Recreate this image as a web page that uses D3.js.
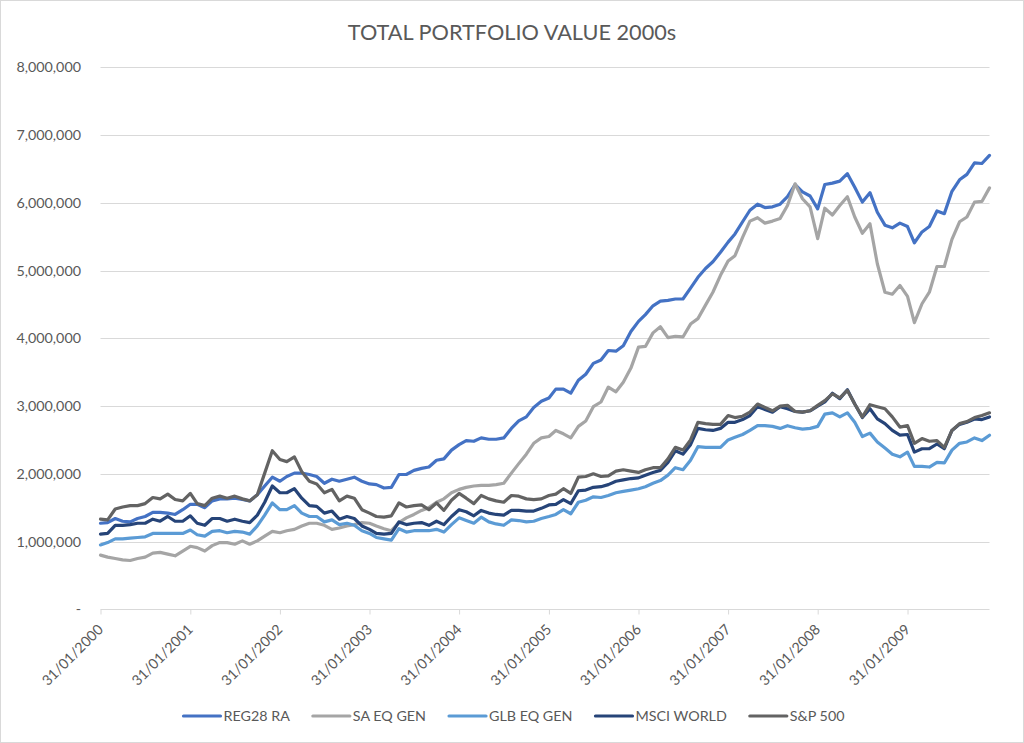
<!DOCTYPE html>
<html><head><meta charset="utf-8">
<script src="https://cdn.jsdelivr.net/npm/d3@7"></script>
<style>
body{margin:0;background:#fff}
svg{display:block}
text{font-family:Lato,"Open Sans",sans-serif;fill:#595959}
</style>
</head><body>
<svg id="chart" width="1024" height="743"></svg>
<script>
const chartTitle = "TOTAL PORTFOLIO VALUE 2000s";
const seriesNames = ["REG28 RA", "SA EQ GEN", "GLB EQ GEN", "MSCI WORLD", "S&P 500"];
const seriesColors = ["#4472C4", "#A5A5A5", "#5B9BD5", "#264478", "#636363"];
const firstMonthEnd = [2000, 0]; // 31/01/2000, monthly month-end observations
const UNIT = 1e6; // values below are in millions

const reg28 = [1.27,1.28,1.34,1.30,1.29,1.34,1.37,1.43,1.43,1.42,1.40,1.47,
1.55,1.55,1.50,1.60,1.63,1.63,1.64,1.62,1.60,1.69,1.82,1.95,
1.89,1.96,2.01,2.01,1.99,1.96,1.86,1.92,1.89,1.92,1.95,1.89,
1.85,1.84,1.79,1.80,1.99,1.99,2.05,2.08,2.10,2.20,2.22,2.35,
2.43,2.49,2.48,2.53,2.51,2.51,2.53,2.67,2.78,2.84,2.98,3.07,
3.12,3.25,3.25,3.19,3.38,3.47,3.63,3.68,3.82,3.81,3.89,4.10,
4.25,4.35,4.48,4.55,4.56,4.58,4.58,4.74,4.90,5.03,5.13,5.27,
5.42,5.54,5.72,5.89,5.98,5.93,5.94,5.98,6.09,6.27,6.16,6.10,
5.91,6.27,6.29,6.32,6.43,6.23,6.01,6.15,5.86,5.67,5.63,5.70,
5.65,5.41,5.57,5.65,5.88,5.84,6.17,6.34,6.42,6.59,6.58,6.70];

const saEqGen = [0.80,0.77,0.75,0.73,0.72,0.75,0.77,0.83,0.84,0.815,0.79,0.86,
0.93,0.91,0.86,0.94,0.985,0.985,0.96,1.01,0.96,1.01,1.08,1.15,
1.13,1.16,1.18,1.23,1.27,1.27,1.24,1.18,1.20,1.23,1.25,1.28,
1.27,1.23,1.19,1.16,1.28,1.35,1.40,1.46,1.50,1.58,1.63,1.72,
1.77,1.80,1.82,1.83,1.83,1.84,1.86,2.01,2.15,2.29,2.45,2.53,
2.55,2.64,2.59,2.53,2.70,2.78,2.99,3.06,3.28,3.21,3.35,3.56,
3.87,3.88,4.08,4.17,4.01,4.03,4.02,4.21,4.29,4.49,4.68,4.93,
5.14,5.22,5.49,5.73,5.78,5.70,5.73,5.77,5.96,6.28,6.06,5.94,
5.47,5.92,5.82,5.96,6.09,5.79,5.55,5.69,5.10,4.68,4.65,4.78,
4.62,4.23,4.51,4.68,5.06,5.06,5.46,5.72,5.79,6.01,6.02,6.22];

const glbEqGen = [0.95,0.985,1.04,1.04,1.05,1.06,1.07,1.12,1.12,1.12,1.12,1.12,
1.17,1.10,1.08,1.15,1.16,1.13,1.15,1.14,1.11,1.23,1.39,1.57,
1.47,1.47,1.53,1.42,1.37,1.37,1.29,1.32,1.25,1.27,1.24,1.16,
1.12,1.06,1.04,1.02,1.19,1.14,1.16,1.16,1.16,1.18,1.14,1.25,
1.35,1.31,1.27,1.36,1.29,1.26,1.24,1.32,1.31,1.29,1.30,1.34,
1.37,1.40,1.47,1.41,1.58,1.61,1.66,1.65,1.68,1.72,1.74,1.76,
1.78,1.81,1.86,1.90,1.98,2.09,2.06,2.20,2.40,2.39,2.39,2.39,
2.50,2.54,2.58,2.64,2.71,2.71,2.70,2.67,2.71,2.68,2.66,2.67,
2.70,2.88,2.90,2.84,2.90,2.76,2.55,2.60,2.47,2.38,2.29,2.25,
2.32,2.11,2.11,2.10,2.17,2.16,2.35,2.45,2.47,2.53,2.49,2.57];

const msciWorld = [1.11,1.12,1.24,1.24,1.25,1.27,1.27,1.33,1.30,1.37,1.30,1.30,
1.38,1.27,1.24,1.34,1.34,1.30,1.33,1.30,1.28,1.39,1.58,1.82,
1.72,1.72,1.78,1.64,1.53,1.52,1.42,1.45,1.33,1.37,1.34,1.23,
1.18,1.12,1.11,1.12,1.29,1.25,1.27,1.28,1.24,1.30,1.25,1.37,
1.47,1.44,1.38,1.46,1.42,1.40,1.39,1.46,1.46,1.45,1.45,1.49,
1.54,1.55,1.62,1.56,1.75,1.76,1.80,1.81,1.84,1.89,1.91,1.93,
1.94,1.98,2.02,2.05,2.17,2.34,2.29,2.43,2.67,2.65,2.64,2.67,
2.76,2.76,2.80,2.86,2.99,2.95,2.91,2.99,2.96,2.92,2.91,2.93,
3.00,3.06,3.19,3.11,3.24,3.03,2.83,2.96,2.81,2.74,2.64,2.57,
2.58,2.32,2.37,2.37,2.44,2.37,2.64,2.73,2.76,2.81,2.80,2.84];

const sp500 = [1.33,1.32,1.48,1.51,1.53,1.53,1.56,1.65,1.63,1.70,1.62,1.60,
1.71,1.56,1.53,1.64,1.67,1.64,1.67,1.63,1.60,1.69,2.01,2.34,
2.21,2.18,2.25,2.03,1.89,1.85,1.72,1.77,1.60,1.67,1.64,1.47,
1.42,1.37,1.36,1.38,1.57,1.51,1.53,1.54,1.47,1.57,1.46,1.61,
1.71,1.64,1.56,1.68,1.63,1.60,1.58,1.68,1.67,1.63,1.62,1.63,
1.68,1.70,1.78,1.71,1.95,1.96,2.00,1.96,1.97,2.04,2.06,2.04,
2.02,2.06,2.09,2.09,2.22,2.39,2.35,2.50,2.76,2.74,2.73,2.73,
2.86,2.83,2.85,2.91,3.03,2.98,2.93,3.00,3.01,2.92,2.91,2.93,
3.01,3.08,3.18,3.12,3.23,3.03,2.84,3.02,2.99,2.96,2.84,2.69,
2.71,2.45,2.52,2.48,2.49,2.39,2.64,2.74,2.77,2.83,2.86,2.90];

const xTickLabels = ["31/01/2000","31/01/2001","31/01/2002","31/01/2003","31/01/2004",
"31/01/2005","31/01/2006","31/01/2007","31/01/2008","31/01/2009"];
const yTickValues = [0,1,2,3,4,5,6,7,8];

(function () {
const allSeries = [reg28, saEqGen, glbEqGen, msciWorld, sp500];
const dates = reg28.map((_, i) => new Date(firstMonthEnd[0], firstMonthEnd[1] + i + 1, 0));
const parseTick = d3.timeParse("%d/%m/%Y");

const svg = d3.select("#chart");
const W = 1024, H = 743;
const pLeft = 100.5, pRight = 989.5, pTop = 67.3, pBottom = 609.3;

svg.append("rect").attr("x",0.5).attr("y",0.5).attr("width",W-1).attr("height",H-1)
  .attr("fill","#fff").attr("stroke","#d9d9d9").attr("stroke-width",1);

const x = d3.scaleTime().domain([dates[0], dates[dates.length-1]]).range([pLeft, pRight]);
const y = d3.scaleLinear().domain([0, 8]).range([pBottom, pTop]);

// gridlines
svg.append("g").selectAll("line").data(yTickValues.filter(v => v > 0)).join("line")
  .attr("x1", pLeft).attr("x2", pRight)
  .attr("y1", d => Math.round(y(d)) + 0.5).attr("y2", d => Math.round(y(d)) + 0.5)
  .attr("stroke", "#d9d9d9").attr("stroke-width", 1);

// y axis labels
const fmt = d3.format(",");
const yAxis = d3.axisLeft(y).tickValues(yTickValues).tickSize(0).tickPadding(0)
  .tickFormat(v => v === 0 ? "-" : fmt(v * UNIT));
const gy = svg.append("g").attr("transform", `translate(81,0)`).call(yAxis);
gy.select(".domain").remove();
gy.selectAll("text").attr("font-size", 14.3).style("font-family", "Lato").attr("fill", "#595959");

// x axis
const tickDates = xTickLabels.map(parseTick);
const xAxis = d3.axisBottom(x).tickValues(tickDates).tickSize(5).tickFormat((d, i) => xTickLabels[i]);
const gx = svg.append("g").attr("transform", `translate(0,${Math.round(pBottom)+0.5})`).call(xAxis);
gx.select(".domain").attr("stroke", "#d9d9d9").attr("d", `M${pLeft},0H${pRight}`);
gx.selectAll(".tick line").attr("stroke", "#d9d9d9");
gx.selectAll(".tick text")
  .attr("font-size", 14.3).style("font-family", "Lato").attr("fill", "#595959")
  .attr("text-anchor", "end").attr("dy", null).attr("y", null)
  .attr("transform", "translate(3,21) rotate(-45)");

// lines
const line = d3.line().x((d, i) => x(dates[i])).y(d => y(d));
svg.append("g").selectAll("path").data(allSeries).join("path")
  .attr("d", line).attr("fill", "none")
  .attr("stroke", (d, i) => seriesColors[i]).attr("stroke-width", 3.2)
  .attr("stroke-linejoin", "round").attr("stroke-linecap", "round");

// title
svg.append("text").attr("x", 512).attr("y", 40).attr("text-anchor", "middle")
  .attr("font-size", 21.7).text(chartTitle);

// legend
const lg = svg.append("g");
const items = lg.selectAll("g").data(seriesNames).join("g");
items.append("line").attr("x1", 0).attr("x2", 37).attr("y1", 0).attr("y2", 0)
  .attr("stroke", (d, i) => seriesColors[i]).attr("stroke-width", 3.2).attr("stroke-linecap","round");
items.append("text").attr("x", 40).attr("y", 0).attr("dy", "0.35em")
  .attr("font-size", 14.3).text(d => d);
const widths = [];
items.each(function () { widths.push(40 + d3.select(this).select("text").node().getComputedTextLength()); });
const gap = 23;
const total = d3.sum(widths) + gap * (widths.length - 1);
let cx = 514 - total / 2;
items.each(function (d, i) {
  d3.select(this).attr("transform", `translate(${cx},716)`);
  cx += widths[i] + gap;
});
})();
</script>
</body></html>
